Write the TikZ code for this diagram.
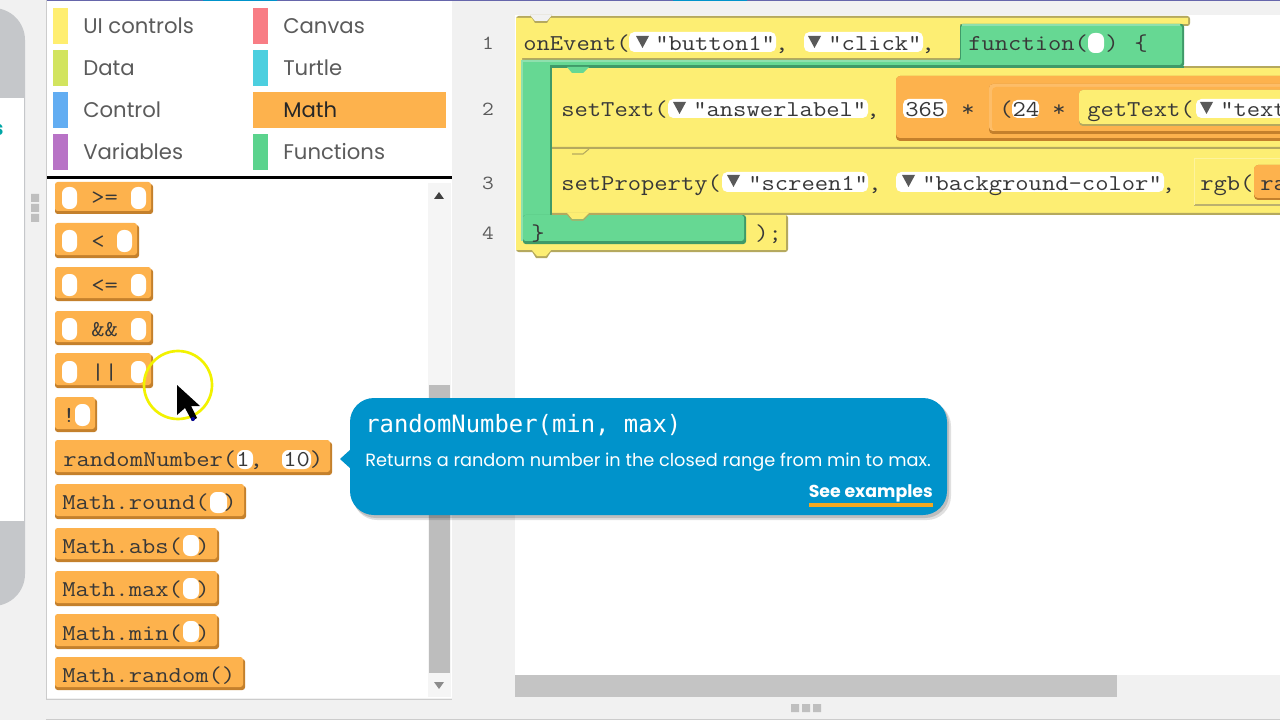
\documentclass[tikz,border=0pt]{standalone}
\usepackage{fontspec}
\newfontfamily\blockfont[FakeStretch=1.14]{Latin Modern Mono}
\newfontfamily\uifont{Poppins}
\newfontfamily\tipfont{DejaVu Sans Mono}
\definecolor{panelgray}{HTML}{F1F1F1}
\definecolor{sidegray}{HTML}{C5C7CA}
\definecolor{scrollgray}{HTML}{BDBDBD}
\definecolor{uitext}{HTML}{5B5B5B}
\definecolor{codetext}{HTML}{383838}
\definecolor{blockyellow}{HTML}{FDEE73}
\definecolor{yellowdark}{HTML}{B5A95E}
\definecolor{blockgreen}{HTML}{66D893}
\definecolor{greenlight}{HTML}{8FE0AE}
\definecolor{greendark}{HTML}{3F9A68}
\definecolor{blockorange}{HTML}{FDB24D}
\definecolor{orangedark}{HTML}{C4802C}
\definecolor{tipblue}{HTML}{0093CB}
\definecolor{linkorange}{HTML}{F4A91F}
\definecolor{cursorring}{HTML}{F2F200}
\tikzset{
    uilabel/.style={font=\uifont\fontsize{15.9}{18}\selectfont, text=uitext, anchor=west, inner sep=0pt},
    codelabel/.style={font=\blockfont\fontsize{17}{20}\selectfont, text=codetext, anchor=base west, inner sep=0pt},
    linenum/.style={font=\blockfont\fontsize{15}{18}\selectfont, text=uitext, anchor=base, inner sep=0pt},
    hole/.style={fill=white, rounded corners=5},
    field/.style={fill=white, rounded corners=4},
    ddmark/.style={fill=black!65}
}
% one orange block of the palette: right edge, top, bottom
\newcommand{\mathblock}[3]{
    \fill[orangedark, rounded corners=2] (55,#2+2) rectangle (#1,#3);
    \fill[blockorange, rounded corners=2] (55,#2) rectangle (#1-2,#3-3);
}
\newcommand{\ddtri}[2]{\fill[ddmark] (#1-6,#2-6) -- (#1+7,#2-6) -- (#1+0.5,#2+6) -- cycle;}
\begin{document}
\begin{tikzpicture}[x=0.75pt, y=-0.75pt]
    \useasboundingbox (0,0) rectangle (1280,720);
    \fill[panelgray] (0,0) rectangle (1280,720);

    % Left edge of the page:
    \fill[sidegray, rounded corners=24] (-40,8) rectangle (25,606);
    \fill[white] (0,98) rectangle (24,521);
    \node[font=\uifont\bfseries\fontsize{15}{18}\selectfont, text=teal!70!cyan, inner sep=0pt] (pageletter) at (-2,130) {s};
    \fill[black!25] (31,194) rectangle (39,202) (31,204) rectangle (39,212) (31,214) rectangle (39,222);

    % Toolbox:
    \fill[white] (47,0) rectangle (452,698);
    \draw[black!20] (46,0) -- (46,699) -- (452,699);
    \fill[black!55!blue!60] (47,0) rectangle (1280,1);
    \fill[tipblue] (203,0) rectangle (277,1) (673,0) rectangle (747,1);
    \fill[black] (47,176) rectangle (452,179);
    \foreach \name/\col/\ya/\xa/\txt in {
        ui/FFEE70/8/53/UI controls, data/D2E45F/50/53/Data, control/62ADF2/92/53/Control, variables/B873C6/134/53/Variables,
        canvas/F87D85/8/253/Canvas, turtle/4CCFDF/50/253/Turtle, functions/5BD38D/134/253/Functions}{
        \definecolor{swatch}{HTML}{\col}
        \fill[swatch] (\xa,\ya) rectangle (\xa+15,\ya+36);
        \node[uilabel] (cat\name) at (\xa+30,\ya+18) {\txt};
    }
    \fill[blockorange] (253,92) rectangle (446,128);
    \node[uilabel, text=black!85] (catmath) at (283,110) {Math};

    % Scrollbar of the toolbox:
    \fill[black!4] (428,183) rectangle (451,697);
    \fill[scrollgray] (429,385) rectangle (450,673);
    \fill[black!75] (434,199) -- (444,199) -- (439,192) -- cycle;
    \fill[black!45] (434,682) -- (444,682) -- (439,689) -- cycle;

    % Palette blocks:
    \mathblock{153}{182}{214}
    \mathblock{139}{223}{258}
    \mathblock{153}{267}{301}
    \mathblock{153}{311}{345}
    \mathblock{153}{353}{388}
    \mathblock{97}{397}{432}
    \mathblock{332}{440}{475}
    \mathblock{246}{484}{519}
    \mathblock{219}{528}{562}
    \mathblock{219}{571}{606}
    \mathblock{219}{614}{649}
    \mathblock{245}{657}{690}
    \foreach \xa/\ya in {62/187, 131/187, 62/230, 117/230, 62/274, 131/274, 62/318, 131/318, 62/361, 131/361, 75/404}
        \fill[hole] (\xa,\ya) rectangle (\xa+15,\ya+22);
    \fill[hole] (237,450) rectangle (253,469);
    \fill[hole] (282,450) rectangle (311,469);
    \fill[hole] (210,492) rectangle (227,513);
    \fill[hole] (183,535) rectangle (199,556);
    \fill[hole] (183,578) rectangle (199,599);
    \fill[hole] (183,621) rectangle (199,642);
    \node[codelabel] (blkge) at (91,205) {>=};
    \node[codelabel] (blklt) at (91,248) {<};
    \node[codelabel] (blkle) at (91,292) {<=};
    \node[codelabel] (blkand) at (91,336) {\&\&};
    \node[codelabel] (blkor) at (91,379) {||};
    \node[codelabel] (blknot) at (62,422) {!};
    \node[codelabel] (blkrandom) at (63,466) {randomNumber(1,};
    \node[codelabel] (blkrandomtop) at (283,466) {10)};
    \node[codelabel] (blkround) at (62,509) {Math.round(};
    \node[codelabel] (blkroundend) at (223,509) {)};
    \node[codelabel] (blkabs) at (62,553) {Math.abs(};
    \node[codelabel] (blkabsend) at (196,553) {)};
    \node[codelabel] (blkmax) at (62,596) {Math.max(};
    \node[codelabel] (blkmaxend) at (196,596) {)};
    \node[codelabel] (blkmin) at (62,640) {Math.min(};
    \node[codelabel] (blkminend) at (196,640) {)};
    \node[codelabel] (blkrnd) at (62,682) {Math.random()};

    % Editor:
    \fill[white] (515,15) rectangle (1280,675);
    \fill[panelgray] (515,675) rectangle (1280,697);
    \fill[scrollgray!90!white] (515,675) rectangle (1117,697);
    \fill[black!25] (791,704) rectangle (799,712) (802,704) rectangle (810,712) (813,704) rectangle (821,712);
    \draw[black!20] (46,719) -- (1280,719);
    \node[linenum] (line1) at (488,50) {1};
    \node[linenum] (line2) at (488,116) {2};
    \node[linenum] (line3) at (488,190) {3};
    \node[linenum] (line4) at (488,239) {4};

    % Outer yellow block:
    \fill[yellowdark, rounded corners=2] (516,215) rectangle (788,252);
    \fill[blockyellow] (516,215) rectangle (786,250);
    \fill[yellowdark] (531,250) -- (536,258) -- (547,258) -- (552,250) -- cycle;
    \fill[blockyellow] (531,249) -- (537,256) -- (546,256) -- (552,249) -- cycle;
    \fill[yellowdark, rounded corners=2] (516,16) -- (1190,16) -- (1190,26) -- (962,26) -- (962,60) -- (516,60) -- cycle;
    \fill[blockyellow] (516,18) rectangle (1188,24) (516,18) rectangle (960,58) (516,50) rectangle (522,230);
    \fill[yellowdark] (530,15) -- (535,23) -- (547,23) -- (552,15) -- cycle;
    \fill[panelgray] (530,15) -- (535,21) -- (547,21) -- (552,15) -- cycle;

    % Green function block:
    \fill[greendark, rounded corners=2] (960,24) -- (1184,24) -- (1184,67) -- (522,67) -- (522,60) -- (960,60) -- cycle;
    \fill[blockgreen, rounded corners=2] (961,25) -- (1182,25) -- (1182,65) -- (522,65) -- (522,61) -- (961,61) -- cycle;
    \fill[greenlight] (962,24) rectangle (1180,26) (522,60) rectangle (960,62);
    \fill[greenlight] (521,60) rectangle (523,241);
    \fill[blockgreen] (523,62) rectangle (550,240);
    \fill[greendark] (550,66) rectangle (552,243);
    \fill[greendark, rounded corners=2] (523,215) rectangle (746,244);
    \fill[blockgreen, rounded corners=2] (523,215) rectangle (744,241);

    % Yellow statements:
    \fill[blockyellow] (552,68) rectangle (1280,147) (552,149) rectangle (1280,213);
    \fill[yellowdark] (552,147) rectangle (1280,149) (552,213) rectangle (1280,215);
    \fill[greendark] (552,66) rectangle (1184,68);
    \fill[yellowdark] (1184,66) rectangle (1280,68);
    \fill[blockgreen] (567,67) -- (572,73) -- (583,73) -- (589,67) -- cycle;
    \draw[yellowdark, thick] (572,154) -- (583,154) -- (589,149);
    \fill[blockyellow] (567,213) -- (572,219) -- (583,219) -- (589,213) -- cycle;
    \draw[yellowdark, thick] (567,214) -- (572,220) -- (583,220) -- (589,214);

    % Orange expressions:
    \fill[orangedark, rounded corners=3] (896,76) rectangle (1290,141);
    \fill[blockorange, rounded corners=3] (896,76) rectangle (1290,138);
    \fill[orangedark, rounded corners=3] (989,84) rectangle (1290,134);
    \fill[blockorange!85!white, rounded corners=3] (989,84) rectangle (1290,131);
    \fill[blockorange, rounded corners=3] (992,87) rectangle (1290,131);
    \fill[yellowdark, rounded corners=3] (1079,90) rectangle (1290,126);
    \fill[blockyellow, rounded corners=3] (1079,90) rectangle (1290,124);
    \fill[yellowdark!90!white] (1194,204) rectangle (1280,206);
    \draw[blockyellow!70!white] (1280,158) -- (1194,158) -- (1194,205);
    \fill[orangedark, rounded corners=3] (1254,165) rectangle (1290,200);
    \fill[blockorange, rounded corners=3] (1254,165) rectangle (1290,198);

    % Fields:
    \fill[field] (629,32) rectangle (776,52);
    \fill[field] (804,32) rectangle (923,52);
    \fill[hole] (1088,33) rectangle (1104,53);
    \fill[field] (668,99) rectangle (868,118);
    \fill[field] (903,99) rectangle (947,118);
    \fill[field] (1012,100) rectangle (1039,118);
    \fill[field] (1196,99) rectangle (1290,118);
    \fill[field] (722,172) rectangle (868,192);
    \fill[field] (896,172) rectangle (1164,192);
    \ddtri{642}{42}
    \ddtri{814}{42}
    \ddtri{679}{108}
    \ddtri{1206}{108}
    \ddtri{733}{181}
    \ddtri{908}{181}

    % Code:
    \node[codelabel] (onevent) at (523,51) {onEvent(};
    \node[codelabel] (button) at (655,51) {"button1",};
    \node[codelabel] (click) at (828,51) {"click",};
    \node[codelabel] (function) at (968,51) {function(};
    \node[codelabel] (funcend) at (1105,51) {)};
    \node[codelabel] (funcbrace) at (1134,51) {\{};
    \node[codelabel] (settext) at (561,117) {setText(};
    \node[codelabel] (answer) at (693,117) {"answerlabel",};
    \node[codelabel] (days) at (905,117) {365};
    \node[codelabel] (daysop) at (961,117) {*};
    \node[codelabel] (hours) at (999,117) {(24};
    \node[codelabel] (hoursop) at (1052,117) {*};
    \node[codelabel] (gettext) at (1087,117) {getText(};
    \node[codelabel] (textname) at (1220,117) {"text};
    \node[codelabel] (setprop) at (561,191) {setProperty(};
    \node[codelabel] (screen) at (748,191) {"screen1",};
    \node[codelabel] (bgcolor) at (922,191) {"background-color",};
    \node[codelabel] (rgb) at (1200,191) {rgb(};
    \node[codelabel] (rgbarg) at (1260,191) {ra};
    \node[codelabel] (closing) at (531,240) {\}};
    \node[codelabel] (endcall) at (755,240) {);};

    % Tooltip:
    \fill[black, opacity=0.12, rounded corners=18] (353,402) rectangle (951,520);
    \fill[black, opacity=0.15, rounded corners=18] (352,400) rectangle (949,518);
    \fill[tipblue, rounded corners=18] (350,398) rectangle (947,515);
    \fill[tipblue] (351,449) -- (340,459) -- (351,469) -- cycle;
    \node[font=\tipfont\fontsize{17.9}{20}\selectfont, text=white, anchor=west, inner sep=0pt] (tiptitle) at (365,425) {randomNumber(min, max)};
    \node[font=\uifont\fontsize{13.3}{16}\selectfont, text=white, anchor=west, inner sep=0pt] (tipbody) at (365,462) {Returns a random number in the closed range from min to max.};
    \node[font=\uifont\bfseries\fontsize{13}{16}\selectfont, text=white, anchor=east, inner sep=0pt] (tiplink) at (933,493) {See examples};
    \fill[linkorange] (809,503) rectangle (933,507);

    % Mouse pointer:
    \draw[cursorring, line width=2pt] (178,385) circle (34);
    \fill[black] (177,385) -- (177,415) -- (185,408) -- (192,421) -- (197,418) -- (191,406) -- (200,406) -- cycle;
    \fill[blue!60!black] (193,419) circle (2);
\end{tikzpicture}
\end{document}
